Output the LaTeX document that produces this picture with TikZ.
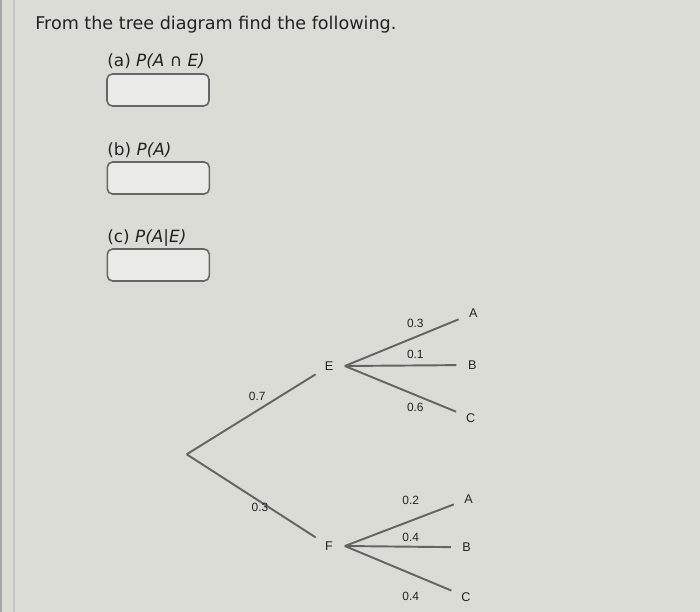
\documentclass[tikz,border=0pt]{standalone}
\usepackage{fontspec}
\setmainfont{DejaVu Sans}
\newfontfamily\treefont{Liberation Sans}
\usepackage{xcolor}
\usepackage{tikz}

\definecolor{paper}{RGB}{220,220,215}
\definecolor{ink}{RGB}{35,35,35}
\definecolor{branchgray}{RGB}{100,100,100}
\tikzset{
  ansbox/.style={draw=gray!80!black, line width=0.9pt, rounded corners=3pt,
    fill=paper!60!white, minimum width=2.04cm, minimum height=0.64cm},
  qtext/.style={anchor=base west, inner sep=0pt, text=ink, font=\fontsize{9.6}{11}\selectfont},
  lbl/.style={circle, inner sep=0pt, minimum size=0.62cm, text=ink,
    font=\treefont\fontsize{7.2}{8}\selectfont},
  prob/.style={inner sep=0pt, text=ink, font=\treefont\fontsize{6.8}{8}\selectfont},
  branch/.style={draw=branchgray, line width=1.1pt}
}

\begin{document}
\begin{tikzpicture}[x=0.02cm,y=-0.02cm]
  \fill[paper] (0,0) rectangle (700,612);
  \useasboundingbox (0,0) rectangle (700,612);
  \fill[gray!70] (0,0) rectangle (2,612);
  \draw[gray!45,line width=0.6pt] (14,0) -- (14,612);

  \node[qtext,font=\fontsize{10}{12}\selectfont] (title) at (35,29.5) {From the tree diagram find the following.};
  \node[qtext] (qa) at (107,66) {(a) \textit{P(A ∩ E)}};
  \node[ansbox] (boxa) at (158,90) {};
  \node[qtext] (qb) at (107,155) {(b) \textit{P(A)}};
  \node[ansbox] (boxb) at (158.3,178) {};
  \node[qtext] (qc) at (107,242) {(c) \textit{P(A|E)}};
  \node[ansbox] (boxc) at (158.3,265) {};

  \coordinate (root) at (186.7,454.3);
  \node[lbl] (E) at (329,366) {E};
  \node[lbl] (F) at (329,546) {F};
  \node[lbl] (EA) at (473.3,313.3) {A};
  \node[lbl] (EB) at (472.3,365) {B};
  \node[lbl] (EC) at (470.7,417.7) {C};
  \node[lbl] (FA) at (468.7,498.7) {A};
  \node[lbl] (FB) at (466.7,547.3) {B};
  \node[lbl] (FC) at (466,596.7) {C};

  \draw[branch] (root) -- (E);
  \draw[branch] (root) -- (F);
  \draw[branch] (E.east) -- (EA);
  \draw[branch] (E.east) -- (EB);
  \draw[branch] (E.east) -- (EC);
  \draw[branch] (F.east) -- (FA);
  \draw[branch] (F.east) -- (FB);
  \draw[branch] (F.east) -- (FC);

  \node[prob] (pE) at (257.3,396) {0.7};
  \node[prob] (pF) at (260,507.3) {0.3};
  \node[prob] (pEA) at (415.3,323.3) {0.3};
  \node[prob] (pEB) at (415.3,354.3) {0.1};
  \node[prob] (pEC) at (415.3,407.3) {0.6};
  \node[prob] (pFA) at (410.7,500) {0.2};
  \node[prob] (pFB) at (410.7,537.3) {0.4};
  \node[prob] (pFC) at (410.7,596.7) {0.4};
\end{tikzpicture}
\end{document}
